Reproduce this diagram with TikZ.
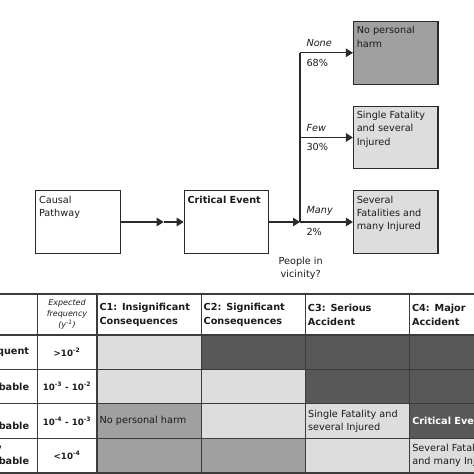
\documentclass[tikz,border=0pt]{standalone}
\usepackage{fontspec}
\setmainfont{DejaVu Sans}
\usepackage{xcolor}
\usetikzlibrary{arrows.meta,positioning,calc}
\definecolor{linegray}{HTML}{2A2A2A}
\definecolor{gridgray}{HTML}{3C3C3C}
\definecolor{inkgray}{HTML}{1C1C1C}
\definecolor{shadeL}{HTML}{DDDDDD}
\definecolor{shadeM}{HTML}{A0A0A0}
\definecolor{shadeD}{HTML}{585858}
\newcommand{\basefont}{\fontsize{9.7}{13.3}\selectfont}
\newcommand{\headfont}{\fontsize{9.7}{14}\selectfont\bfseries}
\newcommand{\toptxt}[1]{\parbox[t][56.5pt][t]{77.9pt}{\raggedright\strut #1}}

\begin{document}
\begin{tikzpicture}[x=1pt,y=-1pt]
    \tikzset{every node/.append style={text=inkgray},
      evbox/.style={draw=linegray, line width=1.1pt, inner xsep=3.3pt, inner ysep=3pt, font=\basefont},
      arr/.style={draw=linegray, line width=1.1pt, -{Triangle[length=7pt,width=8.5pt]}},
      wire/.style={draw=linegray, line width=1.1pt},
      brup/.style={pos=0, anchor=south west, inner sep=0pt, xshift=6pt, yshift=5.8pt, font=\basefont\itshape},
      brdn/.style={pos=0, anchor=north west, inner sep=0pt, xshift=6pt, yshift=-5.5pt, font=\basefont},
      cell/.style={draw=gridgray, line width=1.2pt, fill=white, minimum height=34.4pt, inner sep=0pt, outer sep=0pt},
      lcol/.style={minimum width=97.3pt},
      fcol/.style={minimum width=59.4pt, align=center, font=\fontsize{8.7}{10}\selectfont\bfseries},
      ccol/.style={minimum width=104.2pt, text width=99pt, inner xsep=2.6pt, align=left},
      celltxt/.style={anchor=west, inner xsep=2.6pt, inner ysep=0pt, align=left, font=\basefont},
      rowlab/.style={anchor=east, inner sep=0pt, align=left, font=\basefont\bfseries},
    }
    \useasboundingbox (0,0) rectangle (474,474);
    \clip (0,0) rectangle (474,474);
    \fill[white] (0,0) rectangle (474,474);

    % event tree
    \node[evbox] at (78,222) (causal) {\toptxt{Causal\\Pathway}};
    \node[evbox] at (226.5,222) (critical) {\toptxt{\textbf{Critical Event}}};
    \node[evbox, fill=shadeM] at (395.7,52.8) (noharm) {\toptxt{No personal\\harm}};
    \node[evbox, fill=shadeL] at (395.7,137.5) (fewharm) {\toptxt{Single Fatality\\and several\\Injured}};
    \node[evbox, fill=shadeL] at (395.7,222) (manyharm) {\toptxt{Several\\Fatalities and\\many Injured}};

    \coordinate (m1) at ($(critical.west)+(-20,0)$);
    \coordinate (j) at (300,222);
    \draw[arr] (causal.east) -- (m1);
    \draw[arr] (m1) -- (critical.west);
    \draw[arr] (critical.east) -- (j);
    \draw[wire] (j) -- (j |- noharm.west);
    \draw[arr] (j |- noharm.west) -- node[brup] {None} node[brdn] {68\%} (noharm.west);
    \draw[arr] (j |- fewharm.west) -- node[brup] {Few} node[brdn] {30\%} (fewharm.west);
    \draw[arr] (j) -- node[brup] {Many} node[brdn] {2\%} (manyharm.west);
    \node[align=center, font=\basefont] at ($(j)+(0.7,46.3)$) (vicinity) {People in\\vicinity?};

    % risk matrix
    \node[cell, lcol, minimum height=41pt] at (-11.35,314.5) (h0) {};
    \node[cell, fcol, minimum height=41pt, font=\fontsize{8}{11}\selectfont\itshape] at (67,314.5) (hf) {Expected\\frequency\\(y\textsuperscript{-1})};
    \node[cell, ccol, minimum height=41pt, font=\headfont] at (149,314.5) (h1) {C1: Insignificant\\Consequences};
    \node[cell, ccol, minimum height=41pt, font=\headfont] at (253.2,314.5) (h2) {C2: Significant\\Consequences};
    \node[cell, ccol, minimum height=41pt, font=\headfont] at (357.4,314.5) (h3) {C3: Serious\\Accident};
    \node[cell, ccol, minimum height=41pt, font=\headfont] at (461.6,314.5) (h4) {C4: Major\\Accident};

    \foreach \r/\frq in {1/{>10\textsuperscript{-2}}, 2/{10\textsuperscript{-3} - 10\textsuperscript{-2}},
        3/{10\textsuperscript{-4} - 10\textsuperscript{-3}}, 4/{<10\textsuperscript{-4}}} {
      \node[cell, lcol] at (-11.35,{335+34.4*(\r-0.5)}) (l\r) {};
      \node[cell, fcol] at (67,{335+34.4*(\r-0.5)}) (f\r) {\frq};
    }
    \foreach \c/\r/\shade in {1/1/shadeL, 2/1/shadeD, 3/1/shadeD, 4/1/shadeD,
        1/2/shadeL, 2/2/shadeL, 3/2/shadeD, 4/2/shadeD,
        1/3/shadeM, 2/3/shadeL, 3/3/shadeL, 4/3/shadeD,
        1/4/shadeM, 2/4/shadeM, 3/4/shadeL, 4/4/shadeL}
      \node[cell, ccol, fill=\shade] at ({96.9+104.2*(\c-0.5)},{335+34.4*(\r-0.5)}) (c\c-\r) {};

    \node[rowlab] at ([xshift=-8pt]l1.east) {Frequent};
    \node[rowlab] at ([xshift=-8pt]l2.east) {Probable};
    \node[rowlab] at ([xshift=-8pt,yshift=-6pt]l3.east) {Improbable};
    \node[rowlab] at ([xshift=-8pt]l4.east) {Highly\\Improbable};

    \node[celltxt] at (c1-3.west) {No personal harm};
    \node[celltxt] at (c3-3.west) {Single Fatality and\\several Injured};
    \node[celltxt, text=white, font=\basefont\bfseries] at (c4-3.west) {Critical Event};
    \node[celltxt] at (c4-4.west) {Several Fatalities\\and many Injured};

    \draw[draw=gridgray, line width=2pt] (-5,294) -- (480,294);
    \draw[draw=gridgray, line width=3.2pt] (-5,474) -- (480,474);
  \end{tikzpicture}
\end{document}
